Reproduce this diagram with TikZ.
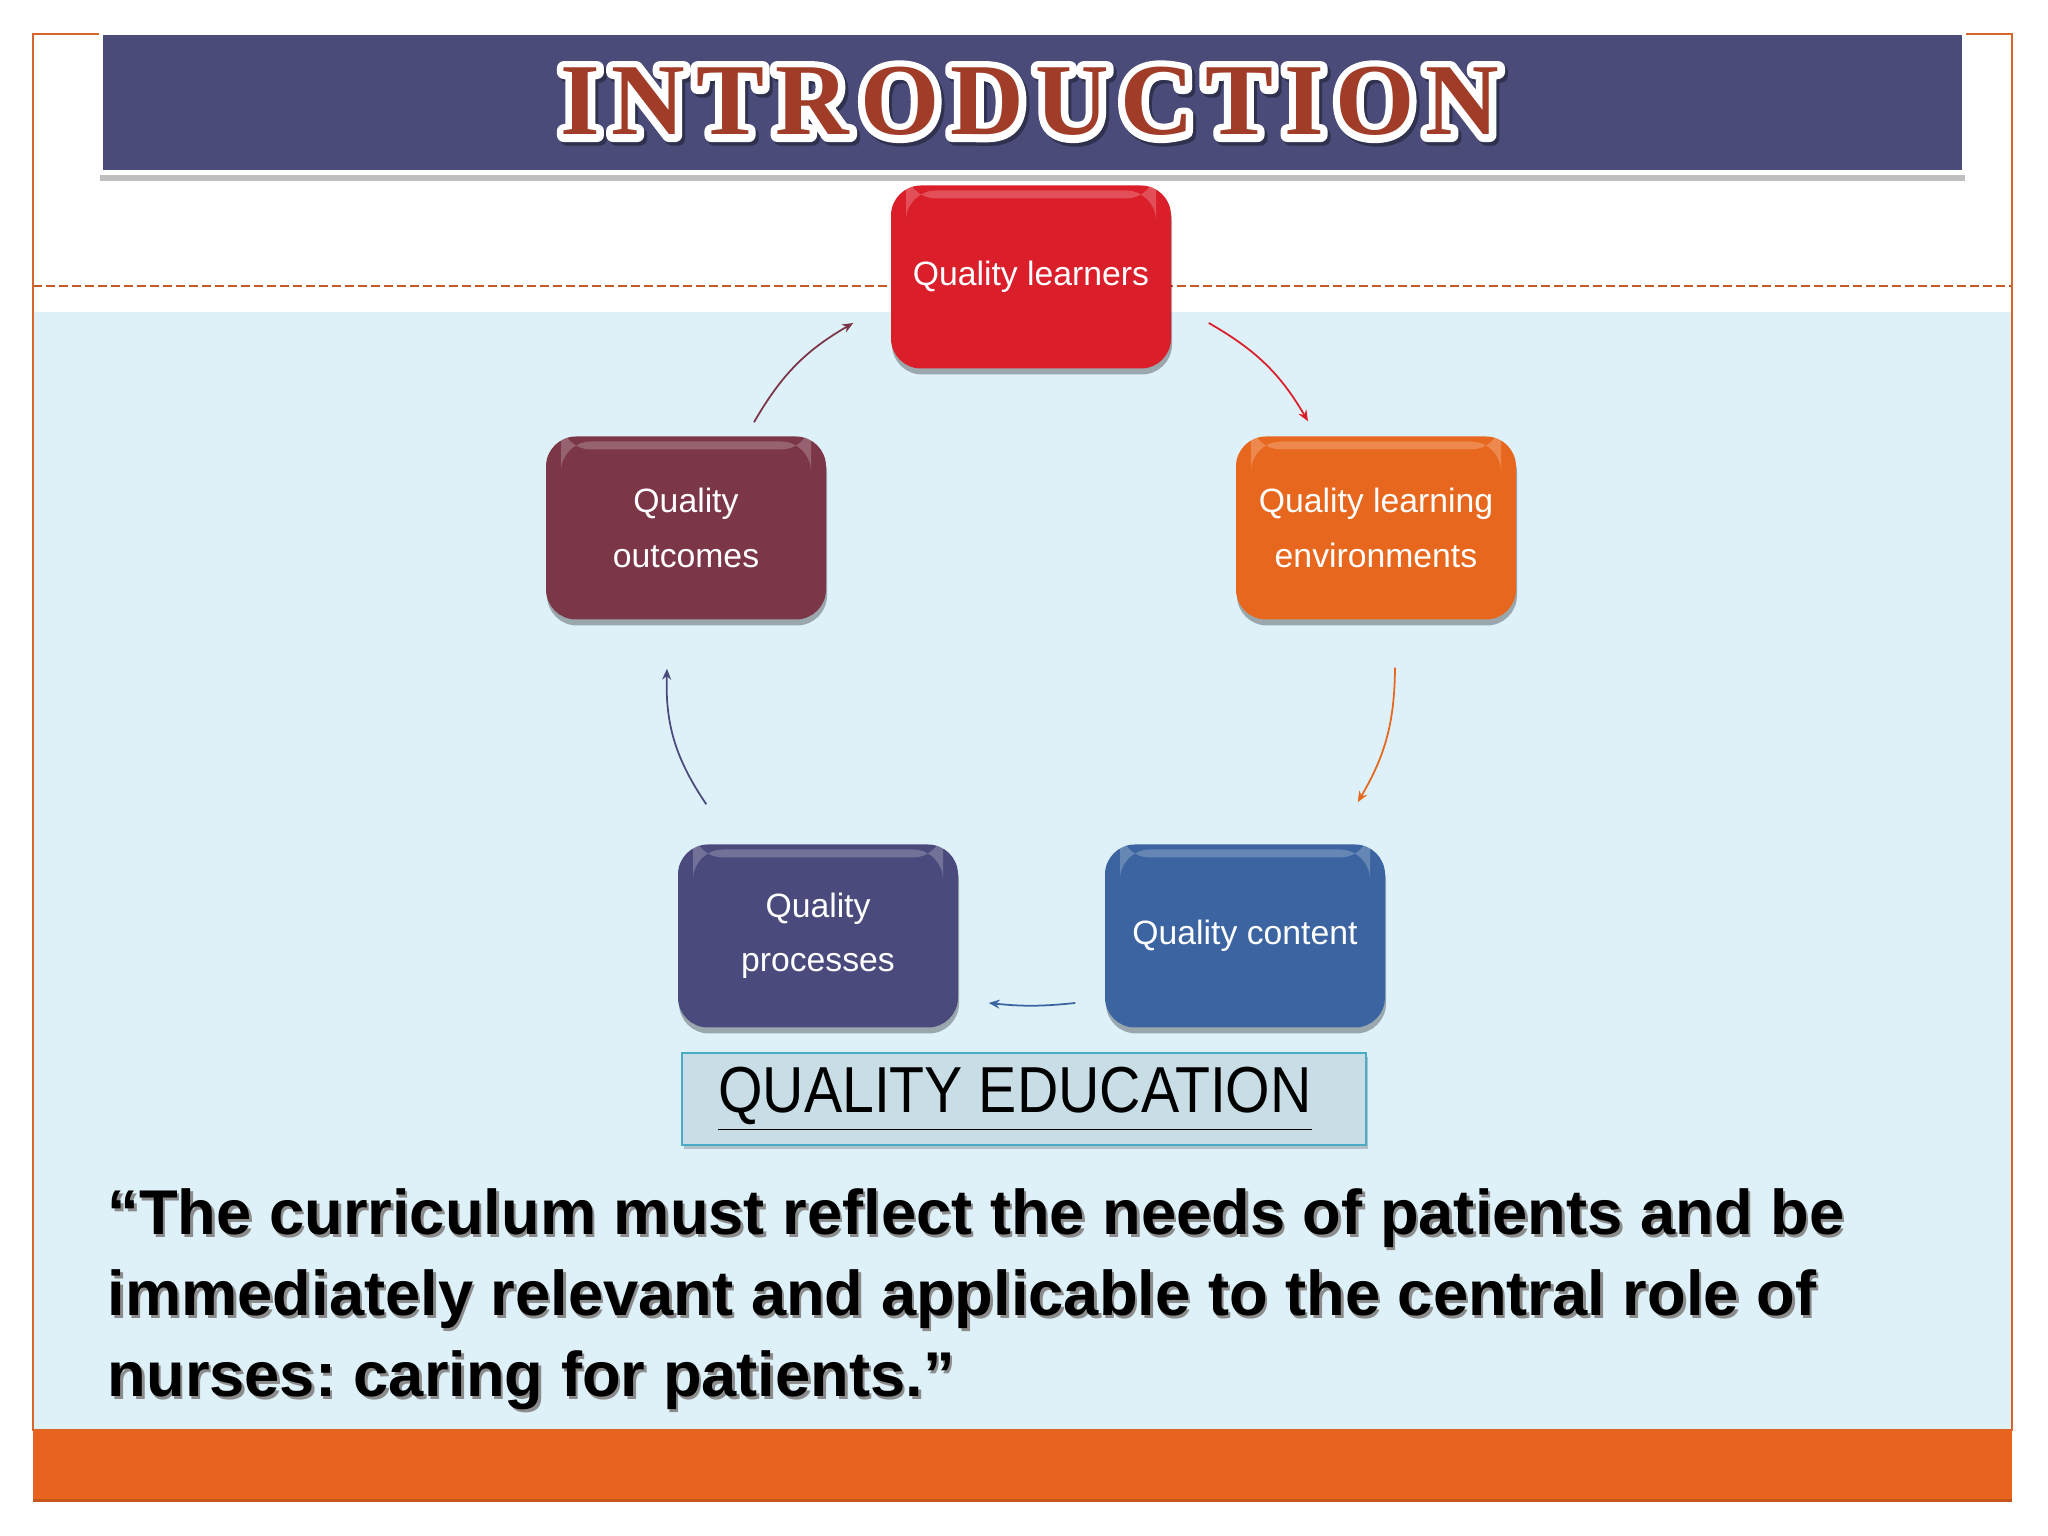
\documentclass[tikz,border=0pt]{standalone}
\usepackage{fontspec}
\setmainfont{Liberation Sans}
\newfontfamily\titlefont[LetterSpace=11]{Liberation Serif}
\newfontfamily\titleoutline[LetterSpace=11, FakeBold=14]{Liberation Serif}
\usepackage{xcolor}
\usetikzlibrary{arrows.meta, shadows}

\definecolor{frameorange}{HTML}{D8652B}
\definecolor{barorange}{HTML}{E8641E}
\definecolor{paleblue}{HTML}{DEF1F9}
\definecolor{bandblue}{HTML}{4A4B78}
\definecolor{titlebrown}{HTML}{A03C28}
\definecolor{learnred}{HTML}{DA1E2A}
\definecolor{envorange}{HTML}{E8671E}
\definecolor{outmaroon}{HTML}{7B3648}
\definecolor{procnavy}{HTML}{4B4A7C}
\definecolor{contblue}{HTML}{3B64A0}
\definecolor{labelfill}{HTML}{C8DDE6}
\definecolor{labeledge}{HTML}{4BACC6}

\begin{document}
\begin{tikzpicture}[
  stage/.style={rounded corners=0.3cm, minimum width=2.8cm, minimum height=1.83cm, inner sep=0pt,
    align=center, text=white, font=\fontsize{9.6}{15.4}\selectfont,
    drop shadow={shadow xshift=0.01cm, shadow yshift=-0.06cm, fill=black, opacity=0.3},
    path picture={\fill[white, opacity=0.22]
      ([xshift=0.15cm, yshift=-0.05cm]path picture bounding box.north west) rectangle
      ([xshift=-0.15cm, yshift=-0.13cm]path picture bounding box.north east);}},
  flow/.style={-{Stealth[length=1.1mm, width=0.9mm]}, line width=0.5pt},
  heading/.style={font=\titlefont\bfseries\fontsize{29}{29}\selectfont, inner sep=0pt, anchor=base},
  outline/.style={font=\titleoutline\bfseries\fontsize{29}{29}\selectfont, inner sep=0pt, anchor=base},
  quote/.style={font=\bfseries\fontsize{18}{23}\selectfont\frenchspacing, align=left, anchor=north west, inner sep=0pt},
]
  \useasboundingbox (0,0) rectangle (20.48,15.36);
  \fill[white] (0,0) rectangle (20.48,15.36);

  % Background and frame
  \fill[paleblue] (0.33,1.06) rectangle (20.12,12.24);
  \draw[frameorange!90!black, line width=0.025cm, dash pattern=on 0.09cm off 0.04cm] (0.33,12.50) -- (20.12,12.50);
  \draw[frameorange, line width=0.02cm] (0.33,1.06) rectangle (20.12,15.02);
  \fill[barorange] (0.33,0.34) rectangle (20.12,1.06);
  \draw[barorange!85!black, line width=0.03cm] (0.33,0.35) -- (20.12,0.35);

  % Title band
  \fill[black!25] (1.00,13.55) rectangle (19.65,13.62);
  \fill[white] (0.99,13.61) rectangle (19.66,15.03);
  \fill[bandblue] (1.03,13.66) rectangle (19.62,15.01);
  \begin{scope}[line join=round]
    \node[outline, text=bandblue!65!black] (titleshadow) at (10.33,13.975) {INTRODUCTION};
    \node[outline, text=white] (titleedge) at (10.30,14.01) {INTRODUCTION};
  \end{scope}
  \node[heading, text=titlebrown] (title) at (10.30,14.01) {INTRODUCTION};

  % Cycle
  \node[stage, fill=learnred] (learners) at (10.31,12.59) {Quality learners};
  \node[stage, fill=envorange] (environments) at (13.76,10.08) {Quality learning\\environments};
  \node[stage, fill=contblue] (content) at (12.45,6.00) {Quality content};
  \node[stage, fill=procnavy] (processes) at (8.18,6.00) {Quality\\processes};
  \node[stage, fill=outmaroon] (outcomes) at (6.86,10.08) {Quality\\outcomes};

  \draw[flow, learnred] ([shift={(0.37,-0.46)}]learners.east) to[bend left=15] ([shift={(-0.68,0.145)}]environments.north);
  \draw[flow, envorange] ([shift={(0.19,-0.475)}]environments.south) to[bend left=15] ([shift={(-0.28,0.415)}]content.north east);
  \draw[flow, contblue] ([shift={(-0.29,-0.67)}]content.west) to[bend left=6] ([shift={(0.30,-0.67)}]processes.east);
  \draw[flow, procnavy] ([shift={(0.29,0.395)}]processes.north west) to[bend left=18] ([shift={(-0.19,-0.485)}]outcomes.south);
  \draw[flow, outmaroon] ([shift={(0.68,0.135)}]outcomes.north) to[bend left=15] ([shift={(-0.37,-0.46)}]learners.west);

  % Label and quote
  \node[draw=labeledge, line width=0.7pt, fill=labelfill, minimum width=6.84cm, minimum height=0.92cm,
    font=\fontsize{18.5}{18.5}\selectfont,
    drop shadow={shadow xshift=0.02cm, shadow yshift=-0.04cm, fill=black, opacity=0.2}] (education) at (10.24,4.37)
    {\raisebox{-0.15cm}{\scalebox{0.88}[1]{\underline{QUALITY EDUCATION}}}\hspace*{0.18cm}};

  \node[quote, text=black!45, shift={(0.025,-0.03)}] (quoteshadow) at (1.07,3.48)
    {“The curriculum must reflect the needs of patients and be\\immediately relevant and applicable to the central role of\\nurses: caring for patients.”};
  \node[quote] (quote) at (1.07,3.48)
    {“The curriculum must reflect the needs of patients and be\\immediately relevant and applicable to the central role of\\nurses: caring for patients.”};
\end{tikzpicture}
\end{document}
